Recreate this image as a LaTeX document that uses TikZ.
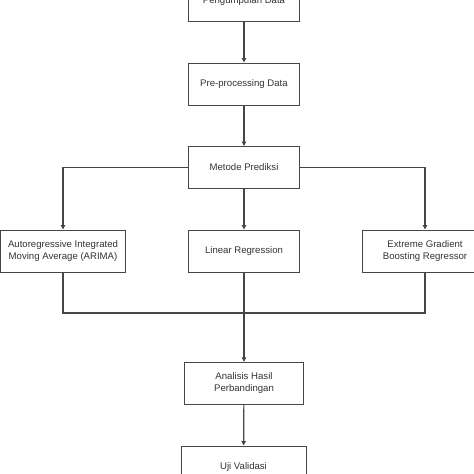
\documentclass[tikz,border=0pt]{standalone}
\usepackage{fontspec}
\setmainfont{Liberation Sans}
\usetikzlibrary{arrows.meta}
\definecolor{abu}{RGB}{70,70,70}
\begin{document}
\begin{tikzpicture}[x=1pt,y=-1pt,
  kotak/.style={draw=abu,line width=1pt,fill=white,align=center,inner sep=0pt,
    minimum height=42pt,text=black!80,font=\fontsize{9.6}{12}\selectfont},
  lurus/.style={draw=abu,line width=1.2pt},
  panah/.style={lurus,-{Triangle[width=4.5pt,length=4.5pt]}}]

\useasboundingbox (0,0) rectangle (474,474);

\node[kotak,minimum width=111pt] (kumpul) at (244,0.7) {Pengumpulan Data};
\node[kotak,minimum width=111pt] (prepro) at (244,84) {Pre-processing Data};
\node[kotak,minimum width=111pt] (metode) at (244,167.5) {Metode Prediksi};

\node[kotak,minimum width=125pt] (arima) at (63,251) {Autoregressive Integrated\\Moving Average (ARIMA)};
\node[kotak,minimum width=111pt] (linreg) at (244,251) {Linear Regression};
\node[kotak,minimum width=125pt] (xgb) at (425,251) {Extreme Gradient\\Boosting Regressor};

\node[kotak,minimum width=119pt] (analisis) at (244,383.3) {Analisis Hasil\\Perbandingan};
\node[kotak,minimum width=125pt] (uji) at (243.5,467) {Uji Validasi};

\draw[panah] (kumpul) -- (prepro);
\draw[panah] (prepro) -- (metode);
\draw[panah] (metode) -- (linreg);
\draw[panah] (metode.west) -| (arima.north);
\draw[panah] (metode.east) -| (xgb.north);

% gabungan tiga metode
\coordinate (gabung) at (244,313);
\draw[lurus] (arima.south) |- (gabung) -| (xgb.south);
\draw[panah] (linreg) -- (analisis);
\draw[panah] (analisis) -- (uji);
\end{tikzpicture}
\end{document}
